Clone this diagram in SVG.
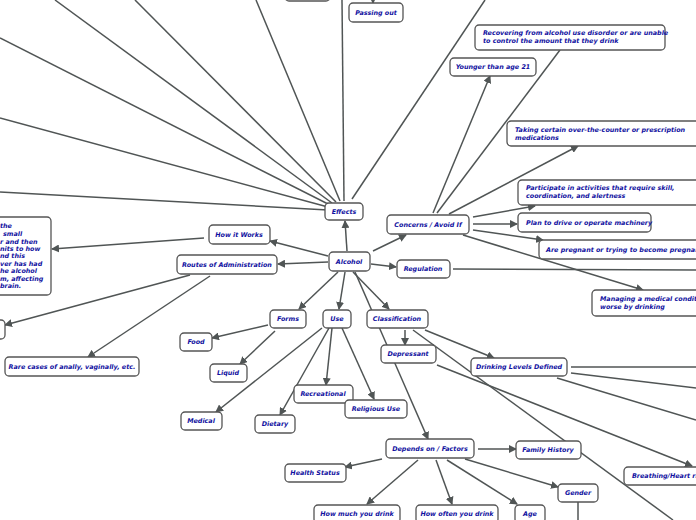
<svg xmlns="http://www.w3.org/2000/svg" width="696" height="520" viewBox="0 0 696 520">
<style>
.n rect{fill:#fff;stroke:#555;stroke-width:1.3;rx:4;ry:4}
.n text{font-family:Verdana,"DejaVu Sans",sans-serif;font-size:6.4px;font-weight:bold;font-style:italic;fill:#1010a0}
#c line{stroke:#505555;stroke-width:1.5}
#c line.a{marker-end:url(#ar)}
</style>
<defs><marker id="ar" markerWidth="8" markerHeight="8" refX="7" refY="4" orient="auto" markerUnits="userSpaceOnUse"><path d="M0,0L8,4L0,8z" fill="#505555"/></marker></defs>
<rect width="696" height="520" fill="#fff"/>
<g id="c">
<line x1="328" y1="210" x2="0" y2="192"/>
<line x1="328" y1="207" x2="0" y2="118"/>
<line x1="330" y1="205" x2="0" y2="38"/>
<line x1="332" y1="203" x2="55" y2="0"/>
<line x1="336" y1="202" x2="135" y2="0"/>
<line x1="340" y1="201" x2="256" y2="0"/>
<line x1="344" y1="201" x2="342" y2="0"/>
<line x1="352" y1="199" x2="485" y2="0"/>
<line class="a" x1="373" y1="0" x2="373" y2="3"/>
<line class="a" x1="347" y1="251" x2="345" y2="221"/>
<line class="a" x1="328" y1="256" x2="270" y2="241"/>
<line class="a" x1="328" y1="262" x2="278" y2="264"/>
<line class="a" x1="373" y1="251" x2="406" y2="235"/>
<line class="a" x1="371" y1="264" x2="396" y2="267"/>
<line class="a" x1="338" y1="272" x2="299" y2="309"/>
<line class="a" x1="345" y1="272" x2="339" y2="309"/>
<line class="a" x1="353" y1="272" x2="389" y2="309"/>
<line class="a" x1="355" y1="272" x2="428" y2="439"/>
<line class="a" x1="204" y1="238" x2="52" y2="249"/>
<line class="a" x1="190" y1="275" x2="5" y2="325"/>
<line class="a" x1="210" y1="276" x2="88" y2="357"/>
<line class="a" x1="268" y1="325" x2="212" y2="338"/>
<line class="a" x1="275" y1="331" x2="240" y2="364"/>
<line class="a" x1="322" y1="328" x2="216" y2="412"/>
<line class="a" x1="329" y1="328" x2="280" y2="415"/>
<line class="a" x1="332" y1="328" x2="326" y2="385"/>
<line class="a" x1="342" y1="328" x2="374" y2="399"/>
<line class="a" x1="405" y1="330" x2="405" y2="345"/>
<line class="a" x1="425" y1="330" x2="494" y2="358"/>
<line x1="413" y1="330" x2="673" y2="520"/>
<line class="a" x1="437" y1="365" x2="692" y2="466"/>
<line x1="571" y1="367" x2="696" y2="367"/>
<line x1="571" y1="373" x2="696" y2="388"/>
<line x1="557" y1="378" x2="696" y2="420"/>
<line class="a" x1="478" y1="449" x2="516" y2="449"/>
<line class="a" x1="382" y1="459" x2="345" y2="467"/>
<line class="a" x1="418" y1="460" x2="367" y2="504"/>
<line class="a" x1="436" y1="460" x2="452" y2="504"/>
<line class="a" x1="447" y1="460" x2="517" y2="504"/>
<line class="a" x1="465" y1="459" x2="558" y2="487"/>
<line x1="578" y1="502" x2="578" y2="520"/>
<line class="a" x1="433" y1="213" x2="490" y2="76"/>
<line x1="437" y1="213" x2="560" y2="50"/>
<line class="a" x1="449" y1="214" x2="578" y2="146"/>
<line class="a" x1="473" y1="217" x2="535" y2="206"/>
<line class="a" x1="473" y1="224" x2="517" y2="224"/>
<line class="a" x1="473" y1="230" x2="543" y2="240"/>
<line class="a" x1="463" y1="235" x2="643" y2="290"/>
<line x1="453" y1="269" x2="696" y2="270"/>
</g>
<g class="n" id="n-top"><rect x="285" y="-10" width="45" height="11"/></g>
<g class="n" id="n-passing"><rect x="349" y="3" width="54" height="19"/><text x="376" y="15" text-anchor="middle">Passing out</text></g>
<g class="n" id="n-effects"><rect x="325" y="203" width="38" height="17"/><text x="344" y="214" text-anchor="middle">Effects</text></g>
<g class="n" id="n-alcohol"><rect x="329" y="252" width="41" height="19"/><text x="349" y="264" text-anchor="middle">Alcohol</text></g>
<g class="n" id="n-how"><rect x="209" y="225" width="61" height="19"/><text x="239" y="237" text-anchor="middle">How it Works</text></g>
<g class="n" id="n-howtext"><rect x="-20" y="217" width="71" height="78"/>
<text x="0" y="228">the</text><text x="3" y="236">small</text><text x="0" y="244">r and then</text><text x="0" y="251">nits to how</text><text x="0" y="258">nd this</text><text x="0" y="266">ver has had</text><text x="0" y="273">he alcohol</text><text x="0" y="281">m, affecting</text><text x="0" y="288">brain.</text></g>
<g class="n" id="n-routes"><rect x="177" y="255" width="100" height="19"/><text x="227" y="267" text-anchor="middle">Routes of Administration</text></g>
<g class="n" id="n-leftbox"><rect x="-20" y="320" width="25" height="19"/></g>
<g class="n" id="n-rare"><rect x="5" y="357" width="134" height="19"/><text x="72" y="369" text-anchor="middle">Rare cases of anally, vaginally, etc.</text></g>
<g class="n" id="n-concerns"><rect x="387" y="215" width="82" height="19"/><text x="428" y="227" text-anchor="middle">Concerns / Avoid If</text></g>
<g class="n" id="n-regulation"><rect x="397" y="260" width="53" height="18"/><text x="423" y="271" text-anchor="middle">Regulation</text></g>
<g class="n" id="n-forms"><rect x="270" y="310" width="36" height="18"/><text x="288" y="321" text-anchor="middle">Forms</text></g>
<g class="n" id="n-use"><rect x="323" y="310" width="28" height="18"/><text x="337" y="321" text-anchor="middle">Use</text></g>
<g class="n" id="n-class"><rect x="367" y="310" width="61" height="18"/><text x="397" y="321" text-anchor="middle">Classification</text></g>
<g class="n" id="n-depressant"><rect x="381" y="345" width="55" height="18"/><text x="408" y="356" text-anchor="middle">Depressant</text></g>
<g class="n" id="n-levels"><rect x="471" y="358" width="96" height="18"/><text x="519" y="369" text-anchor="middle">Drinking Levels Defined</text></g>
<g class="n" id="n-food"><rect x="180" y="333" width="32" height="18"/><text x="196" y="344" text-anchor="middle">Food</text></g>
<g class="n" id="n-liquid"><rect x="210" y="364" width="37" height="18"/><text x="228" y="375" text-anchor="middle">Liquid</text></g>
<g class="n" id="n-medical"><rect x="181" y="412" width="41" height="18"/><text x="201" y="423" text-anchor="middle">Medical</text></g>
<g class="n" id="n-dietary"><rect x="255" y="415" width="40" height="18"/><text x="275" y="426" text-anchor="middle">Dietary</text></g>
<g class="n" id="n-rec"><rect x="294" y="385" width="59" height="18"/><text x="323" y="396" text-anchor="middle">Recreational</text></g>
<g class="n" id="n-relig"><rect x="345" y="400" width="62" height="18"/><text x="376" y="411" text-anchor="middle">Religious Use</text></g>
<g class="n" id="n-depends"><rect x="386" y="439" width="88" height="19"/><text x="430" y="451" text-anchor="middle">Depends on / Factors</text></g>
<g class="n" id="n-family"><rect x="516" y="441" width="65" height="18"/><text x="548" y="452" text-anchor="middle">Family History</text></g>
<g class="n" id="n-health"><rect x="285" y="464" width="61" height="18"/><text x="315" y="475" text-anchor="middle">Health Status</text></g>
<g class="n" id="n-gender"><rect x="558" y="484" width="40" height="18"/><text x="578" y="495" text-anchor="middle">Gender</text></g>
<g class="n" id="n-much"><rect x="314" y="505" width="86" height="18"/><text x="357" y="516" text-anchor="middle">How much you drink</text></g>
<g class="n" id="n-often"><rect x="416" y="505" width="82" height="18"/><text x="457" y="516" text-anchor="middle">How often you drink</text></g>
<g class="n" id="n-age"><rect x="515" y="505" width="30" height="18"/><text x="530" y="516" text-anchor="middle">Age</text></g>
<g class="n" id="n-breath"><rect x="624" y="467" width="90" height="18"/><text x="632" y="478">Breathing/Heart ra</text></g>
<g class="n" id="n-younger"><rect x="450" y="58" width="86" height="18"/><text x="493" y="69" text-anchor="middle">Younger than age 21</text></g>
<g class="n" id="n-recover"><rect x="475" y="25" width="190" height="25"/><text x="483" y="35">Recovering from alcohol use disorder or are unable</text><text x="483" y="43">to control the amount that they drink</text></g>
<g class="n" id="n-taking"><rect x="507" y="121" width="200" height="25"/><text x="515" y="132">Taking certain over-the-counter or prescription</text><text x="515" y="140">medications</text></g>
<g class="n" id="n-partic"><rect x="518" y="180" width="190" height="25"/><text x="526" y="190">Participate in activities that require skill,</text><text x="526" y="198">coordination, and alertness</text></g>
<g class="n" id="n-plan"><rect x="518" y="213" width="133" height="19"/><text x="526" y="225">Plan to drive or operate machinery</text></g>
<g class="n" id="n-preg"><rect x="539" y="240" width="170" height="19"/><text x="546" y="252">Are pregnant or trying to become pregnant</text></g>
<g class="n" id="n-manage"><rect x="592" y="290" width="120" height="26"/><text x="600" y="301">Managing a medical condition</text><text x="600" y="309">worse by drinking</text></g>
</svg>
